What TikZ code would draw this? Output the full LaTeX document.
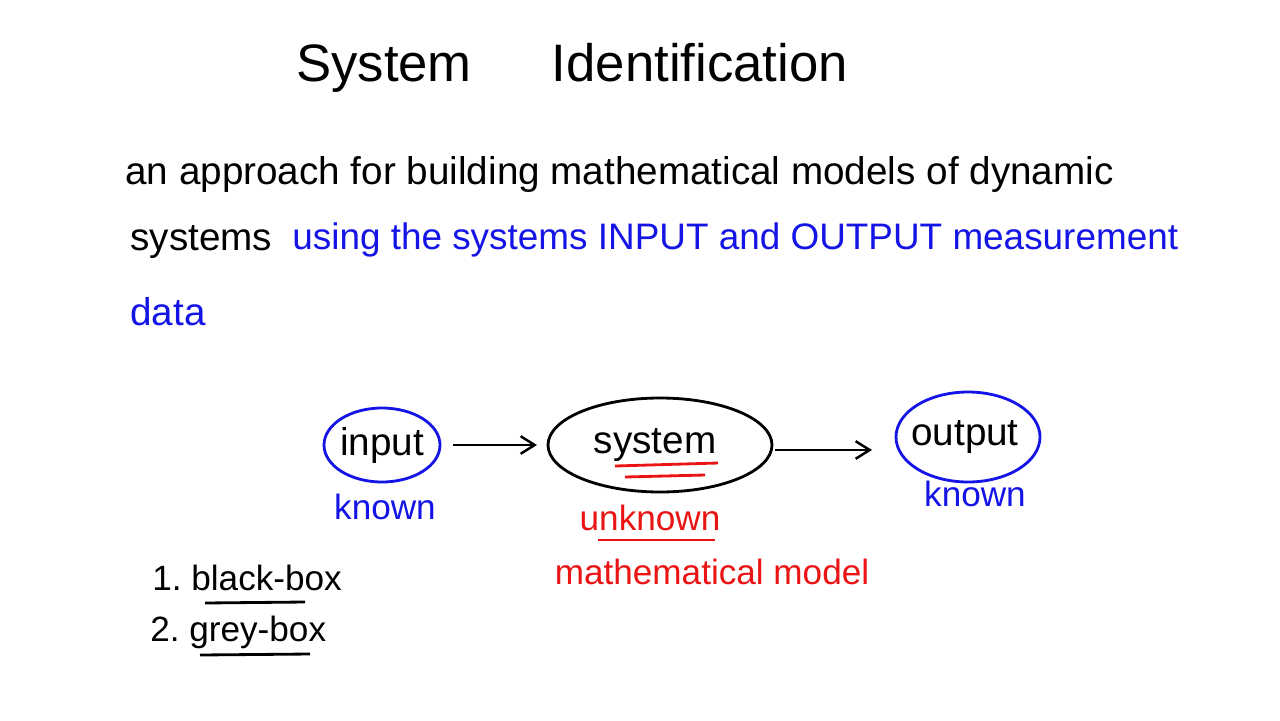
\documentclass[tikz,border=0pt]{standalone}
\usepackage{fontspec}
\setmainfont{Liberation Sans}
\usetikzlibrary{arrows.meta}
\definecolor{hblue}{RGB}{20,20,230}
\definecolor{hred}{RGB}{235,20,20}
\begin{document}
\begin{tikzpicture}[x=0.02cm,y=-0.02cm,
  txt/.style={inner sep=0pt,font=\fontsize{22}{26}\selectfont},
  sm/.style={inner sep=0pt,font=\fontsize{20}{24}\selectfont},
  big/.style={inner sep=0pt,font=\fontsize{30}{34}\selectfont},
  arr/.style={draw,line width=1.4pt,-{Straight Barb[length=8pt,width=10pt]}},
  ul/.style={line width=1.6pt}]
\useasboundingbox[fill=white] (0,0) rectangle (1280,720);
\node[big] (title) at (572,68) {System\hspace{1.6cm}Identification};
\node[txt,anchor=west] (l1) at (125,175) {an approach for building mathematical models of dynamic};
\node[txt,anchor=west] (l2a) at (130,242) {systems};
\node[inner sep=0pt,font=\fontsize{21}{25}\selectfont,anchor=west,text=hblue] (l2b) at (292,240) {using the systems INPUT and OUTPUT measurement};
\node[txt,anchor=west,text=hblue] (l3) at (130,312) {data};
% diagram
\draw[hblue,line width=1.6pt] (382,445) ellipse [x radius=58,y radius=37];
\node[txt] (in) at (382,445) {input};
\draw[line width=1.6pt] (660,445) ellipse [x radius=112,y radius=47];
\node[txt] (sys) at (655,445) {system};
\draw[hblue,line width=1.6pt] (968,437) ellipse [x radius=72,y radius=45];
\node[txt] (out) at (965,437) {output};
\coordinate (a1s) at (453,445); \coordinate (a1e) at (537,445);
\coordinate (a2s) at (775,450); \coordinate (a2e) at (872,450);
\draw[arr] (a1s) -- (a1e);
\draw[arr] (a2s) -- (a2e);
\draw[hred,ul] (615,466) -- (718,463);
\draw[hred,ul] (625,477) -- (705,475);
\node[sm,text=hblue] (k1) at (385,507) {known};
\node[sm,text=hblue] (k2) at (975,494) {known};
\node[sm,text=hred] (unk) at (650,518) {unknown};
\draw[hred,ul] (598,540) -- (715,540);
\node[sm,text=hred] (mm) at (712,572) {mathematical model};
\node[sm,anchor=west] (b1) at (152,578) {1.\ black-box};
\draw[ul] (205,603) -- (305,602);
\node[sm,anchor=west] (b2) at (150,632) {2.\ grey-box};
\draw[ul] (200,655) -- (310,654);
\end{tikzpicture}
\end{document}
